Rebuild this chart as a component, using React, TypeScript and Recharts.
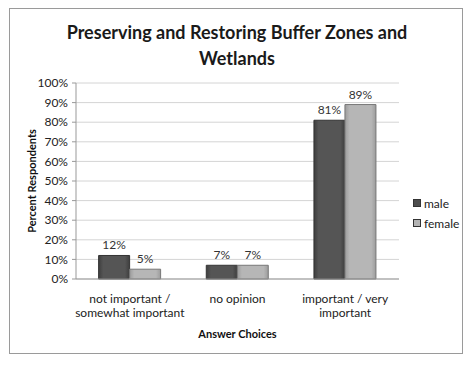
import { BarChart, Bar, XAxis, YAxis, CartesianGrid, LabelList } from "recharts";

const categories = ["not important / somewhat important", "no opinion", "important / very important"];
const categoryLines = [["not important /", "somewhat important"], ["no opinion"], ["important / very", "important"]];
const maleValues = [12, 7, 81];
const femaleValues = [5, 7, 89];
const yTicks = [0, 10, 20, 30, 40, 50, 60, 70, 80, 90, 100];

const data = categories.map((name, i) => ({
    name,
    male: maleValues[i],
    female: femaleValues[i],
}));

const FONT = "Lato, 'Open Sans', sans-serif";

const CategoryTick = ({ x, y, index }: any) => {
    const lines = categoryLines[index] || [];
    return (
        <g>
            {lines.map((line, i) => (
                <text key={i} x={x} y={y + 16 + i * 14} textAnchor="middle" fontSize={12} fill="#222" fontFamily={FONT}>
                    {line}
                </text>
            ))}
        </g>
    );
};

const legendItems = [
    { label: "male", color: "#4e4e4e" },
    { label: "female", color: "#b4b4b4" },
];

export default function App() {
    return (
        <div style={{ position: "absolute", left: 0, top: 0, width: 474, height: 365, background: "#fff" }}>
            <div
                style={{
                    position: "absolute",
                    left: 9,
                    top: 8,
                    width: 454,
                    height: 346,
                    border: "1px solid #9a9a9a",
                    boxSizing: "border-box",
                }}
            />
            <BarChart
                width={474}
                height={365}
                data={data}
                margin={{ top: 83, right: 75, left: 0, bottom: 0 }}
                barCategoryGap="21%"
                barGap={0}
                style={{ position: "absolute", left: 0, top: 0 }}
            >
                <defs>
                    <linearGradient id="maleFill" x1="0" y1="0" x2="1" y2="0">
                        <stop offset="0%" stopColor="#3e3e3e" />
                        <stop offset="15%" stopColor="#555" />
                        <stop offset="85%" stopColor="#555" />
                        <stop offset="100%" stopColor="#3e3e3e" />
                    </linearGradient>
                    <linearGradient id="femaleFill" x1="0" y1="0" x2="1" y2="0">
                        <stop offset="0%" stopColor="#9c9c9c" />
                        <stop offset="15%" stopColor="#b6b6b6" />
                        <stop offset="85%" stopColor="#b6b6b6" />
                        <stop offset="100%" stopColor="#9c9c9c" />
                    </linearGradient>
                </defs>
                <CartesianGrid vertical={false} stroke="#d4d4d4" />
                <XAxis
                    dataKey="name"
                    height={86}
                    tick={<CategoryTick />}
                    tickLine={false}
                    axisLine={{ stroke: "#999" }}
                    interval={0}
                />
                <YAxis
                    width={76}
                    domain={[0, 100]}
                    ticks={yTicks}
                    tickFormatter={(v: number) => `${v}%`}
                    tick={{ fontSize: 12, fill: "#222", fontFamily: FONT }}
                    tickSize={4}
                    tickMargin={4}
                    tickLine={{ stroke: "#999" }}
                    axisLine={{ stroke: "#999" }}
                    interval={0}
                />
                <Bar dataKey="male" name="male" fill="url(#maleFill)" stroke="#333" strokeWidth={1} isAnimationActive={false}>
                    <LabelList dataKey="male" position="top" offset={6} formatter={(v: any) => `${v}%`} style={{ fontSize: 12, fill: "#333", fontFamily: FONT }} />
                </Bar>
                <Bar dataKey="female" name="female" fill="url(#femaleFill)" stroke="#777" strokeWidth={1} isAnimationActive={false}>
                    <LabelList dataKey="female" position="top" offset={6} formatter={(v: any) => `${v}%`} style={{ fontSize: 12, fill: "#333", fontFamily: FONT }} />
                </Bar>
            </BarChart>
            <div
                style={{
                    position: "absolute",
                    left: 0,
                    top: 19,
                    width: 474,
                    textAlign: "center",
                    fontFamily: FONT,
                    fontWeight: 700,
                    fontSize: 18,
                    lineHeight: "26px",
                    color: "#1a1a1a",
                }}
            >
                Preserving and Restoring Buffer Zones and
                <br />
                Wetlands
            </div>
            <div
                style={{
                    position: "absolute",
                    left: 31,
                    top: 181,
                    transform: "translate(-50%, -50%) rotate(-90deg)",
                    fontFamily: FONT,
                    fontWeight: 700,
                    fontSize: 11,
                    whiteSpace: "nowrap",
                    color: "#111",
                }}
            >
                Percent Respondents
            </div>
            <div
                style={{
                    position: "absolute",
                    left: 76,
                    width: 323,
                    top: 327,
                    textAlign: "center",
                    fontFamily: FONT,
                    fontWeight: 700,
                    fontSize: 11,
                    color: "#111",
                }}
            >
                Answer Choices
            </div>
            <div style={{ position: "absolute", left: 413, top: 193, fontFamily: FONT, fontSize: 12, color: "#222" }}>
                {legendItems.map((item) => (
                    <div key={item.label} style={{ display: "flex", alignItems: "center", height: 20 }}>
                        <span style={{ width: 6, height: 6, background: item.color, border: "1px solid #333", marginRight: 3 }} />
                        {item.label}
                    </div>
                ))}
            </div>
        </div>
    );
}
